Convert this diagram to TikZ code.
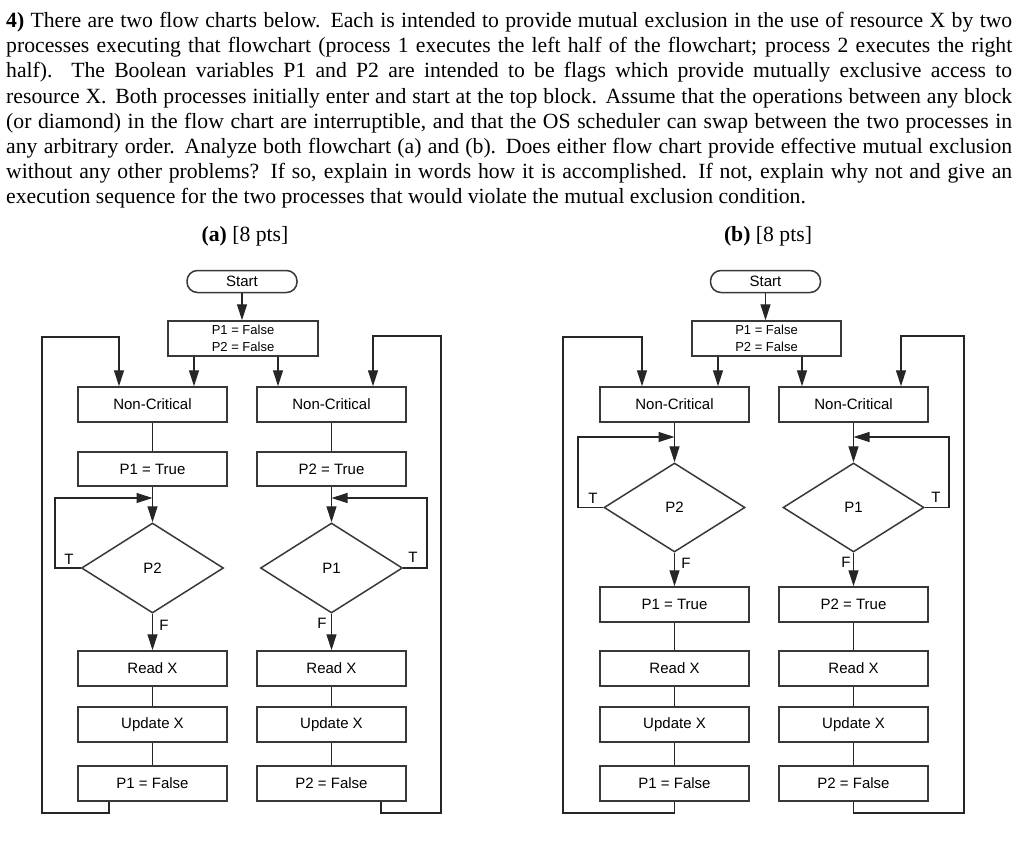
\documentclass[tikz,border=0pt]{standalone}
\usepackage{fontspec}
\setmainfont{Liberation Serif}
\setsansfont{Liberation Sans}
\usetikzlibrary{shapes.geometric,arrows.meta}
\begin{document}
\begin{tikzpicture}[x=1pt,y=-1pt,
  para/.style={anchor=base west, inner sep=0pt, font=\fontsize{21.7}{25.2}\selectfont},
  box/.style={draw=black!78, line width=1.5pt, minimum width=149pt, minimum height=35pt, inner sep=0pt, font=\sffamily\fontsize{15}{18}\selectfont},
  dia/.style={diamond, draw=black!78, line width=1.5pt, minimum width=142pt, minimum height=90pt, inner sep=0pt, font=\sffamily\fontsize{15}{18}\selectfont},
  term/.style={draw=black!78, line width=1.5pt, rounded corners=10.5pt, minimum width=110pt, minimum height=22pt, inner sep=0pt, font=\sffamily\fontsize{15}{18}\selectfont},
  initbox/.style={box, minimum width=150pt, align=center, font=\sffamily\fontsize{13}{17}\selectfont},
  conn/.style={line width=1.3pt, draw=black!85},
  arr/.style={conn, -{Triangle[length=16pt,width=10pt]}},
  lbl/.style={inner sep=0pt, font=\sffamily\fontsize{15}{18}\selectfont}
]
\useasboundingbox (0,0) rectangle (1024,842);

% ---------- question text ----------
\node[para] (q1) at (6,27.5) {\makebox[1006pt][s]{\textbf{4)} There are two flow charts below.  Each is intended to provide mutual exclusion in the use of resource X by two}};
\node[para] (q2) at (6,52.7) {\makebox[1006pt][s]{processes executing that flowchart (process 1 executes the left half of the flowchart; process 2 executes the right}};
\node[para] (q3) at (6,77.9) {\makebox[1006pt][s]{half).  The Boolean variables P1 and P2 are intended to be flags which provide mutually exclusive access to}};
\node[para] (q4) at (6,103.1) {\makebox[1006pt][s]{resource X\@.  Both processes initially enter and start at the top block.  Assume that the operations between any block}};
\node[para] (q5) at (6,128.3) {\makebox[1006pt][s]{(or diamond) in the flow chart are interruptible, and that the OS scheduler can swap between the two processes in}};
\node[para] (q6) at (6,153.5) {\makebox[1006pt][s]{any arbitrary order.  Analyze both flowchart (a) and (b).  Does either flow chart provide effective mutual exclusion}};
\node[para] (q7) at (6,178.7) {\makebox[1006pt][s]{without any other problems?  If so, explain in words how it is accomplished.  If not, explain why not and give an}};
\node[para] (q8) at (6,203.9) {execution sequence for the two processes that would violate the mutual exclusion condition.};
\node[para, anchor=base] (hda) at (245,241) {\textbf{(a)} [8 pts]};
\node[para, anchor=base] (hdb) at (768,241) {\textbf{(b)} [8 pts]};

% ---------- flowchart (a) ----------
\node[term] (sa) at (242,281.5) {Start};
\node[initbox] (ia) at (243,338.5) {P1 = False\\P2 = False};
\node[box] (nca1) at (152.5,404.5) {Non-Critical};
\node[box] (nca2) at (331.5,404.5) {Non-Critical};
\node[box, minimum height=34pt] (ta1) at (152.5,469) {P1 = True};
\node[box, minimum height=34pt] (ta2) at (331.5,469) {P2 = True};
\node[dia] (da1) at (152.5,568) {P2};
\node[dia] (da2) at (331.5,568) {P1};
\node[box] (ra1) at (152.5,668.5) {Read X};
\node[box] (ra2) at (331.5,668.5) {Read X};
\node[box] (ua1) at (152.5,724.5) {Update X};
\node[box] (ua2) at (331.5,724.5) {Update X};
\node[box] (fa1) at (152.5,783.5) {P1 = False};
\node[box] (fa2) at (331.5,783.5) {P2 = False};

\node[lbl] (Ta1) at (69,559) {T};
\node[lbl] (Fa1) at (164,625) {F};
\node[lbl] (Ta2) at (413,557) {T};
\node[lbl] (Fa2) at (322,623) {F};

\coordinate (xa1) at (194,0);
\coordinate (xa2) at (278,0);
\coordinate (ba1) at (109,813);
\coordinate (ca1) at (42,337);
\coordinate (ea1) at (119,337);
\coordinate (ba2) at (381,813);
\coordinate (ca2) at (441,336);
\coordinate (ea2) at (373,336);
\coordinate (la1) at (55,498);
\coordinate (la2) at (427,498);

\draw[arr] (sa.south) -- (sa.south |- ia.north);
\draw[arr] (ia.south -| xa1) -- (nca1.north -| xa1);
\draw[arr] (ia.south -| xa2) -- (nca2.north -| xa2);
\draw[arr] (fa1.south -| ba1) -- (ba1) -- (ca1 |- ba1) -- (ca1) -- (ea1) -- (nca1.north -| ea1);
\draw[arr] (fa2.south -| ba2) -- (ba2) -- (ca2 |- ba2) -- (ca2) -- (ea2) -- (nca2.north -| ea2);
\draw[conn] (nca1.south) -- (ta1.north);
\draw[conn] (nca2.south) -- (ta2.north);
\draw[arr] (ta1.south) -- (da1.north);
\draw[arr] (ta2.south) -- (da2.north);
\draw[arr] (da1.west) -- (la1 |- da1.west) -- (la1) -- (la1 -| da1.north);
\draw[arr] (da2.east) -- (la2 |- da2.east) -- (la2) -- (la2 -| da2.north);
\draw[arr] (da1.south) -- (ra1.north);
\draw[arr] (da2.south) -- (ra2.north);
\draw[conn] (ra1.south) -- (ua1.north);
\draw[conn] (ra2.south) -- (ua2.north);
\draw[conn] (ua1.south) -- (fa1.north);
\draw[conn] (ua2.south) -- (fa2.north);

% ---------- flowchart (b) ----------
\node[term] (sb) at (765.5,281.5) {Start};
\node[initbox, minimum width=149pt] (ib) at (766.5,338.5) {P1 = False\\P2 = False};
\node[box] (ncb1) at (674.5,404.5) {Non-Critical};
\node[box] (ncb2) at (853.5,404.5) {Non-Critical};
\node[dia, minimum width=141pt, minimum height=89pt] (db1) at (674.5,507.5) {P2};
\node[dia, minimum width=141pt, minimum height=89pt] (db2) at (853.5,507.5) {P1};
\node[box] (tb1) at (674.5,604.5) {P1 = True};
\node[box] (tb2) at (853.5,604.5) {P2 = True};
\node[box] (rb1) at (674.5,668.5) {Read X};
\node[box] (rb2) at (853.5,668.5) {Read X};
\node[box] (ub1) at (674.5,724.5) {Update X};
\node[box] (ub2) at (853.5,724.5) {Update X};
\node[box] (fb1) at (674.5,783.5) {P1 = False};
\node[box] (fb2) at (853.5,783.5) {P2 = False};

\node[lbl] (Tb1) at (593,498) {T};
\node[lbl] (Fb1) at (686,563) {F};
\node[lbl] (Tb2) at (936,497) {T};
\node[lbl] (Fb2) at (846,562) {F};

\coordinate (xb1) at (718,0);
\coordinate (xb2) at (802,0);
\coordinate (bb1) at (674.5,813);
\coordinate (cb1) at (563,337);
\coordinate (eb1) at (642,337);
\coordinate (bb2) at (853.5,813);
\coordinate (cb2) at (964,336);
\coordinate (eb2) at (901,336);
\coordinate (lb1) at (578,437);
\coordinate (lb2) at (949,437);

\draw[arr] (sb.south) -- (sb.south |- ib.north);
\draw[arr] (ib.south -| xb1) -- (ncb1.north -| xb1);
\draw[arr] (ib.south -| xb2) -- (ncb2.north -| xb2);
\draw[arr] (fb1.south) -- (bb1) -- (cb1 |- bb1) -- (cb1) -- (eb1) -- (ncb1.north -| eb1);
\draw[arr] (fb2.south) -- (bb2) -- (cb2 |- bb2) -- (cb2) -- (eb2) -- (ncb2.north -| eb2);
\draw[arr] (ncb1.south) -- (db1.north);
\draw[arr] (ncb2.south) -- (db2.north);
\draw[arr] (db1.west) -- (lb1 |- db1.west) -- (lb1) -- (lb1 -| db1.north);
\draw[arr] (db2.east) -- (lb2 |- db2.east) -- (lb2) -- (lb2 -| db2.north);
\draw[arr] (db1.south) -- (tb1.north);
\draw[arr] (db2.south) -- (tb2.north);
\draw[conn] (tb1.south) -- (rb1.north);
\draw[conn] (tb2.south) -- (rb2.north);
\draw[conn] (rb1.south) -- (ub1.north);
\draw[conn] (rb2.south) -- (ub2.north);
\draw[conn] (ub1.south) -- (fb1.north);
\draw[conn] (ub2.south) -- (fb2.north);
\end{tikzpicture}
\end{document}
